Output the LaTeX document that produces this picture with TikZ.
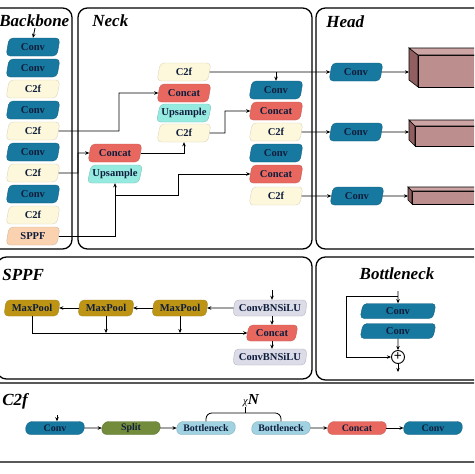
\documentclass[tikz,border=0pt]{standalone}
\usepackage{fontspec}
\setmainfont{Liberation Serif}
\usepackage{tikz}
\usetikzlibrary{arrows.meta,positioning,shapes.geometric,calc}
\definecolor{convblue}{RGB}{23,120,160}
\definecolor{cream}{RGB}{253,248,220}
\definecolor{creamline}{RGB}{215,210,185}
\definecolor{concatred}{RGB}{232,104,95}
\definecolor{upaqua}{RGB}{150,235,225}
\definecolor{sppfpeach}{RGB}{250,210,175}
\definecolor{poolgold}{RGB}{190,148,20}
\definecolor{cbslilac}{RGB}{220,220,232}
\definecolor{splitgreen}{RGB}{115,140,60}
\definecolor{bneckblue}{RGB}{160,210,225}
\definecolor{cubefront}{RGB}{188,142,142}
\definecolor{cubeside}{RGB}{145,95,95}
\definecolor{cubetop}{RGB}{205,165,165}
\definecolor{textnavy}{RGB}{15,30,60}

\begin{document}
\begin{tikzpicture}[x=0.03cm, y=-0.03cm, line width=0.7pt, >={Stealth[length=3.5pt,width=3pt]},
block/.style={trapezium, trapezium left angle=72, trapezium right angle=108, trapezium stretches body, rounded corners=3.5pt, minimum width=1.62cm, minimum height=0.54cm, inner sep=1pt, line width=0.3pt, font=\fontsize{9}{10}\selectfont\bfseries, text=textnavy},
conv node/.style={block, fill=convblue, draw=convblue!80!black},
c2f node/.style={block, fill=cream, draw=creamline},
concat node/.style={block, fill=concatred, draw=concatred!85!black},
up node/.style={block, fill=upaqua, draw=upaqua!80!black},
sppf node/.style={block, fill=sppfpeach, draw=sppfpeach!85!black},
pool node/.style={block, trapezium left angle=78, trapezium right angle=102, minimum width=1.68cm, minimum height=0.48cm, fill=poolgold, draw=poolgold!85!black},
cbs node/.style={block, trapezium left angle=80, trapezium right angle=100, minimum width=2.22cm, minimum height=0.48cm, fill=cbslilac, draw=cbslilac!80!black},
small node/.style={block, trapezium left angle=80, trapezium right angle=100, rounded corners=5pt, minimum width=1.8cm, minimum height=0.39cm, font=\fontsize{8.5}{9}\selectfont\bfseries},
panel/.style={draw, line width=1.1pt, rounded corners=8pt},
title/.style={font=\fontsize{14.5}{16}\selectfont\bfseries\itshape, anchor=west, inner sep=0pt}]
\useasboundingbox (0,0) rectangle (474,474);
\clip (0,0) rectangle (474,474);
\fill[white] (0,0) rectangle (474,474);

% panels
\draw[panel] (-10,8) rectangle (72,249);
\draw[panel] (78,8) rectangle (312,249);
\draw[panel] (316,8) rectangle (490,249);
\draw[panel] (-3,257) rectangle (312,379);
\draw[panel] (316,257) rectangle (490,380);
\draw[panel] (-10,383) rectangle (490,462);

\node[title] (tbackbone) at (-1,21) {Backbone};
\node[title] (tneck) at (92,21) {Neck};
\node[title] (thead) at (326,22) {Head};
\node[title] (tsppf) at (2,275) {SPPF};
\node[title, anchor=center] (tbottleneck) at (397,274) {Bottleneck};
\node[title] (tc2f) at (2,401) {C2f};

% backbone
\node[conv node] (b1) at (33,47) {Conv};
\node[conv node] (b2) at (33,68) {Conv};
\node[c2f node] (b3) at (33,89) {C2f};
\node[conv node] (b4) at (33,110) {Conv};
\node[c2f node] (b5) at (33,131) {C2f};
\node[conv node] (b6) at (33,152) {Conv};
\node[c2f node] (b7) at (33,173) {C2f};
\node[conv node] (b8) at (33,194) {Conv};
\node[c2f node] (b9) at (33,215) {C2f};
\node[sppf node] (b10) at (33,236) {SPPF};
\coordinate (binput) at (35,28);
\draw[->] (binput) -- (b1.north);

% neck
\node[concat node] (nc1) at (115,153) {Concat};
\node[up node] (nu1) at (115,174) {Upsample};
\node[c2f node] (nt1) at (184,72) {C2f};
\node[concat node] (nc2) at (184,93) {Concat};
\node[up node] (nu2) at (184,113) {Upsample};
\node[c2f node] (nt2) at (184,133) {C2f};
\node[conv node] (nv1) at (276,90) {Conv};
\node[concat node] (nc3) at (276,111) {Concat};
\node[c2f node] (nt3) at (276,132) {C2f};
\node[conv node] (nv2) at (276,153) {Conv};
\node[concat node] (nc4) at (276,174) {Concat};
\node[c2f node] (nt4) at (276,196) {C2f};
\coordinate (k1) at (119,131);
\coordinate (k2) at (78,173);
\coordinate (k4) at (178,195);
\coordinate (k5) at (225,133);
\draw[->] (b5.east) -- (k1) |- (nc2.west);
\draw[->] (b7.east) -- (k2) |- (nc1.west);
\draw[->] (b10.east) -| (nu1.south);
\draw[->] (nu1.south |- k4) -- (k4) |- (nc4.west);
\draw[->] (nc1.east) -| (nt2.south);
\draw[->] (nt2.east) -- (k5) |- (nc3.west);
\draw[->] (nv1.north |- nt1.east) -- (nv1.north);

% head
\node[conv node] (h1) at (356,72) {Conv};
\node[conv node] (h2) at (356,132) {Conv};
\node[conv node] (h3) at (357,196) {Conv};
\coordinate (q1) at (409,72);
\coordinate (q2) at (409,132);
\coordinate (q3) at (408,196);
\draw[->] (nt1.east) -- (h1.west);
\draw[->] (nt3.east) -- (h2.west);
\draw[->] (nt4.east) -- (h3.west);
\draw[->] (h1.east) -- (q1);
\draw[->] (h2.east) -- (q2);
\draw[->] (h3.east) -- (q3);
\filldraw[fill=cubefront, line width=0.5pt] (418,55) rectangle (490,87);
\filldraw[fill=cubeside, line width=0.5pt] (418,55) -- (409,48) -- (409,80) -- (418,87) -- cycle;
\filldraw[fill=cubetop, line width=0.5pt] (418,55) -- (409,48) -- (490,48) -- (490,55) -- cycle;
\filldraw[fill=cubefront, line width=0.5pt] (415,126) rectangle (490,146);
\filldraw[fill=cubeside, line width=0.5pt] (415,126) -- (409,120) -- (409,140) -- (415,146) -- cycle;
\filldraw[fill=cubetop, line width=0.5pt] (415,126) -- (409,120) -- (490,120) -- (490,126) -- cycle;
\filldraw[fill=cubefront, line width=0.5pt] (412,191) rectangle (490,204);
\filldraw[fill=cubeside, line width=0.5pt] (412,191) -- (408,187) -- (408,200) -- (412,204) -- cycle;
\filldraw[fill=cubetop, line width=0.5pt] (412,191) -- (408,187) -- (490,187) -- (490,191) -- cycle;

% sppf
\node[pool node] (s1) at (32,308) {MaxPool};
\node[pool node] (s2) at (106,308) {MaxPool};
\node[pool node] (s3) at (180,308) {MaxPool};
\node[cbs node] (s4) at (270,308) {ConvBNSiLU};
\node[concat node, minimum width=1.56cm, minimum height=0.48cm] (s5) at (272,333) {Concat};
\node[cbs node] (s6) at (270,357) {ConvBNSiLU};
\coordinate (sin) at (272,290);
\draw[->] (sin) -- (s4.north -| sin);
\draw[->] (s4.south -| sin) -- (s5.north -| sin);
\draw[->] (s5.south -| sin) -- (s6.north -| sin);
\draw[->] (s4.west) -- (s3.east);
\draw[->] (s3.west) -- (s2.east);
\draw[->] (s2.west) -- (s1.east);
\draw[->] (s1.south) |- (s5.west);
\draw[->] (s2.south) -- (s2.south |- s5.west);
\draw[->] (s3.south) -- (s3.south |- s5.west);

% bottleneck
\node[conv node, minimum width=2.28cm, minimum height=0.45cm] (bc1) at (398,311) {Conv};
\node[conv node, minimum width=2.28cm, minimum height=0.45cm] (bc2) at (398,331) {Conv};
\node[circle, draw, line width=0.8pt, minimum size=0.39cm, inner sep=0pt, font=\fontsize{12}{12}\selectfont\bfseries] (bplus) at (398,357) {+};
\coordinate (bnin) at (398,291);
\coordinate (bnsplit) at (398,296);
\coordinate (bnleft) at (346,296);
\coordinate (bnout) at (398,372);
\draw[->] (bnin) -- (bc1.north);
\draw[->] (bnsplit) -- (bnleft) |- (bplus.west);
\draw[->] (bc2.south) -- (bplus.north);
\draw[->] (bplus.south) -- (bnout);

% c2f
\node[small node, fill=convblue, draw=convblue!80!black] (cc1) at (55,428) {Conv};
\node[small node, fill=splitgreen, draw=splitgreen!80!black] (cs) at (131,428) {Split};
\node[small node, fill=bneckblue, draw=bneckblue!80!black] (cb1) at (206,428) {Bottleneck};
\node[small node, fill=bneckblue, draw=bneckblue!80!black] (cb2) at (281,428) {Bottleneck};
\node[small node, fill=concatred, draw=concatred!85!black] (cc2) at (357,428) {Concat};
\node[small node, fill=convblue, draw=convblue!80!black] (cc3) at (433,428) {Conv};
\coordinate (cin) at (57,415);
\coordinate (nmid) at (245,413);
\draw[->] (cin) -- (cc1.north -| cin);
\draw[->] (cc1.east) -- (cs.west);
\draw[->] (cs.east) -- (cb1.west);
\draw[->] (cb2.east) -- (cc2.west);
\draw[->] (cc2.east) -- (cc3.west);
\draw[rounded corners=5pt] (cb1.north) |- (nmid) -| (cb2.north);
\draw (nmid) -- ++(0,-6);
\node[inner sep=0pt] (nlabel) at (251,401) {{\fontsize{9}{9}\selectfont\itshape χ}{\fontsize{13}{13}\selectfont\bfseries\itshape N}};
\end{tikzpicture}
\end{document}
